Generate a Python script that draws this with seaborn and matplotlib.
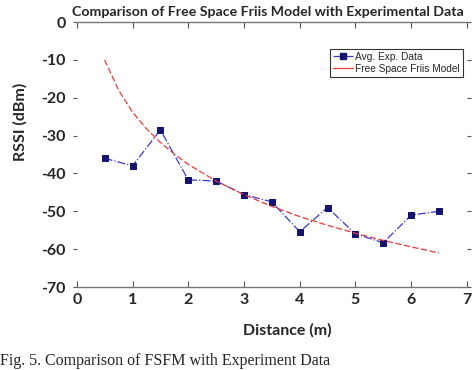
import pandas as pd
import seaborn as sns
import matplotlib.pyplot as plt
from matplotlib.lines import Line2D

# ====================== data ======================
dist_exp = [0.5, 1.0, 1.5, 2.0, 2.5, 3.0, 3.5, 4.0, 4.5, 5.0, 5.5, 6.0, 6.5]
rssi_exp = [-36, -38, -28.5, -41.7, -42, -45.6, -47.5, -55.4, -49, -56, -58.3, -51, -50]

dist_friis = [0.5, 0.75, 1.0, 1.25, 1.5, 1.75, 2.0, 2.5, 3.0, 3.5, 4.0, 4.5, 5.0, 5.5, 6.0, 6.5]
rssi_friis = [-10, -18, -23.8, -28.2, -31.8, -34.9, -37.6, -42, -45.6, -48.7, -51.4, -53.7, -55.8, -57.7, -59.4, -61]

x_ticks = [0, 1, 2, 3, 4, 5, 6, 7]
y_ticks = [0, -10, -20, -30, -40, -50, -60, -70]

exp = pd.DataFrame({'d': dist_exp, 'rssi': rssi_exp})
friis = pd.DataFrame({'d': dist_friis, 'rssi': rssi_friis})

BLUE_LINE = '#3a3ad0'
BLUE_MARK = '#141470'
RED = '#e83a3a'

sns.set_theme(style="white")
plt.rcParams['font.family'] = ['Lato', 'DejaVu Sans']

fig = plt.figure(figsize=(4.74, 3.70), dpi=100)
ax = fig.add_axes([0.162, 0.2243, 0.823, 0.7162])

sns.lineplot(data=exp, x='d', y='rssi', ax=ax, color=BLUE_LINE, linestyle='-.',
             linewidth=0.9, marker='s', markersize=4, markerfacecolor=BLUE_MARK,
             markeredgecolor=BLUE_MARK, legend=False)
sns.lineplot(data=friis, x='d', y='rssi', ax=ax, color=RED, linestyle=(0, (5, 2)),
             linewidth=0.9, legend=False)

ax.set_xlim(0, 7)
ax.set_ylim(-70, 0)
ax.set_xticks(x_ticks)
ax.set_yticks(y_ticks)
ax.set_xticklabels([str(t) for t in x_ticks], fontsize=11.5, fontweight='bold')
ax.set_yticklabels([str(t) for t in y_ticks], fontsize=11.5, fontweight='bold')

for s in ['left', 'right']:
    ax.spines[s].set_visible(False)
for s in ['top', 'bottom']:
    ax.spines[s].set_color('#777777')
    ax.spines[s].set_linewidth(1.0)

ax.tick_params(axis='x', direction='in', length=4, width=0.8, color='#555555',
               top=True, bottom=True, pad=4)
ax.tick_params(axis='y', direction='out', length=3, width=0.8, color='#555555',
               left=True, right=True, pad=5)

ax.set_xlabel('Distance (m)', fontsize=11.5, fontweight='bold')
ax.xaxis.set_label_coords(0.54, -0.135)
ax.set_ylabel('RSSI (dBm)', fontsize=11.5, fontweight='bold')
ax.yaxis.set_label_coords(-0.125, 0.625)

fig.text(0.152, 0.985, 'Comparison of Free Space Friis Model with Experimental Data',
         fontsize=10.2, fontweight='bold', ha='left', va='top')

handles = [
    Line2D([], [], color=BLUE_LINE, linestyle='-.', linewidth=0.9, marker='s',
           markersize=4, markerfacecolor=BLUE_MARK, markeredgecolor=BLUE_MARK),
    Line2D([], [], color=RED, linestyle='-', linewidth=0.9),
]
leg = ax.legend(handles, ['Avg. Exp. Data', 'Free Space Friis Model'],
                loc='upper right', bbox_to_anchor=(0.99, 0.9), fontsize=7.3,
                frameon=True, fancybox=False, borderpad=0.3, labelspacing=0.2,
                handlelength=2.0, handletextpad=0.2, borderaxespad=0)
leg.get_frame().set_edgecolor('black')
leg.get_frame().set_linewidth(0.8)
for t in leg.get_texts():
    t.set_family(['Liberation Sans', 'DejaVu Sans'])

fig.text(0.0, 0.004, 'Fig. 5. Comparison of FSFM with Experiment Data',
         fontsize=11.5, family=['Liberation Serif', 'DejaVu Serif'], ha='left', va='bottom')

plt.savefig('out.png', dpi=100)
